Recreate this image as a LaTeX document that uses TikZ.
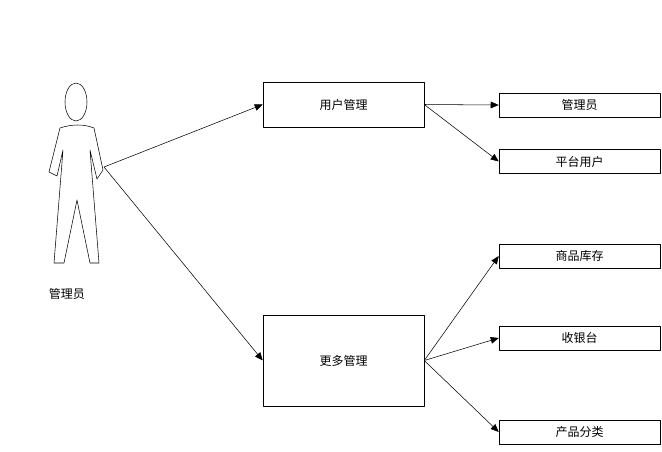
\documentclass[tikz,border=0pt]{standalone}
\usepackage{fontspec}
\setmainfont{Noto Sans CJK SC}
\usetikzlibrary{arrows.meta}
\tikzset{box/.style={draw,minimum width=161*0.75pt,inner sep=0pt,font=\small},
  conn/.style={-{Triangle[length=6pt,width=5pt]}}}
\begin{document}
\begin{tikzpicture}[x=0.75pt,y=-0.75pt,line join=round]
\useasboundingbox (0,0) rectangle (662,451);
% actor
\draw (76,102) ellipse (11 and 19);
\draw (60,128) .. controls (72,124) and (84,124) .. (94,128) -- (103,170) -- (97,179)
  -- (90,150) -- (99,263) -- (90,263) -- (77,200) -- (64,263) -- (54,263)
  -- (63,150) -- (57,176) -- (49,172) -- cycle;
\coordinate (hand) at (104,167);
\node (actor) at (67,294) {\small 管理员};
% boxes
\node[box,minimum height=45*0.75pt] (user) at (343.5,104.5) {用户管理};
\node[box,minimum height=91*0.75pt] (more) at (343.5,360.5) {更多管理};
\node[box,minimum height=24*0.75pt] (admin) at (579.5,105) {管理员};
\node[box,minimum height=24*0.75pt] (plat) at (579.5,161.5) {平台用户};
\node[box,minimum height=24*0.75pt] (stock) at (579.5,256) {商品库存};
\node[box,minimum height=24*0.75pt] (cash) at (579.5,338) {收银台};
\node[box,minimum height=24*0.75pt] (cat) at (579.5,432) {产品分类};
% connectors
\draw[conn] (hand) -- (user.west);
\draw[conn] (hand) -- (more.west);
\draw[conn] (user.east) -- (admin.west);
\draw[conn] (user.east) -- (plat.west);
\draw[conn] (more.east) -- (stock.west);
\draw[conn] (more.east) -- (cash.west);
\draw[conn] (more.east) -- (cat.west);
\end{tikzpicture}
\end{document}
